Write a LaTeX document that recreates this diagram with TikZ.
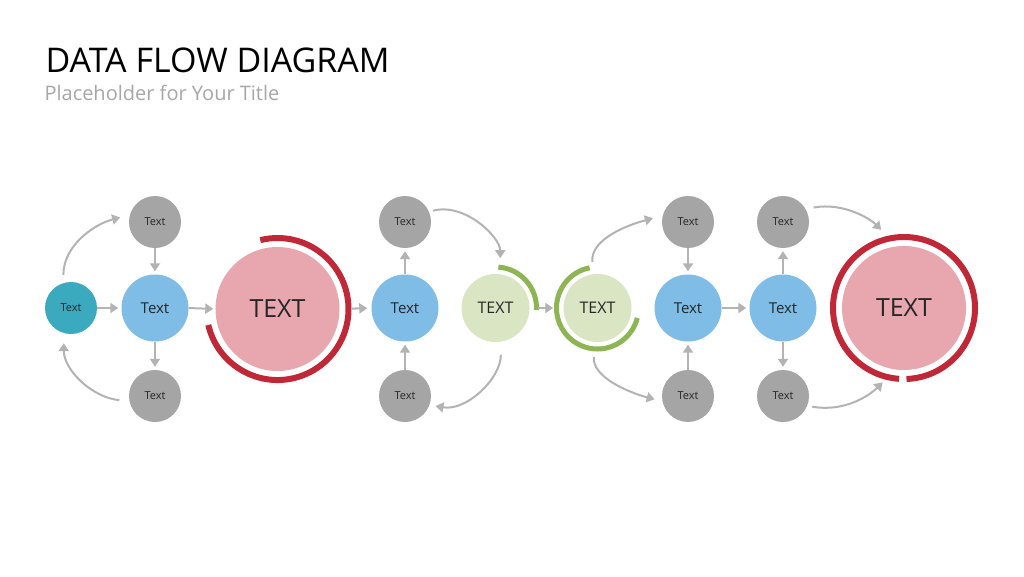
\documentclass[tikz,border=0pt]{standalone}
\usepackage{fontspec}
\setmainfont{Open Sans}
\usetikzlibrary{arrows.meta}

\definecolor{circGray}{HTML}{A5A5A5}
\definecolor{arrowGray}{HTML}{B3B3B3}
\definecolor{circBlue}{HTML}{7FBDE6}
\definecolor{circTeal}{HTML}{3BAABE}
\definecolor{circPink}{HTML}{E8A6AE}
\definecolor{ringRed}{HTML}{C02838}
\definecolor{circGreen}{HTML}{D9E5C3}
\definecolor{ringGreen}{HTML}{8DB554}
\definecolor{txtDark}{HTML}{262626}
\definecolor{txtSub}{HTML}{A6A6A6}

\begin{document}
\begin{tikzpicture}[x=1pt,y=1pt]

    \tikzset{grayNode/.style = {shape=circle,fill=circGray,minimum size=52pt,inner sep=0pt,text=txtDark,font=\fontsize{11}{13}\selectfont}}
    \tikzset{tealNode/.style = {shape=circle,fill=circTeal,minimum size=52pt,inner sep=0pt,text=txtDark,font=\fontsize{11}{13}\selectfont}}
    \tikzset{blueNode/.style = {shape=circle,fill=circBlue,minimum size=67pt,inner sep=0pt,text=txtDark,font=\fontsize{15}{18}\selectfont}}
    \tikzset{greenNode/.style = {shape=circle,fill=circGreen,minimum size=68pt,inner sep=0pt,text=txtDark,font=\fontsize{16}{19}\selectfont}}
    \tikzset{pinkNode/.style = {shape=circle,fill=circPink,minimum size=124pt,inner sep=0pt,text=txtDark,font=\fontsize{25}{30}\selectfont}}
    \tikzset{redRing/.style = {draw=ringRed,line width=6pt}}
    \tikzset{greenRing/.style = {draw=ringGreen,line width=5pt}}
    \tikzset{flow/.style = {-{Triangle[length=8pt,width=10pt]},draw=arrowGray,line width=2pt}}

    \useasboundingbox (0,0) rectangle (1024,-576);

    \node [anchor=base west,text=black,font=\fontsize{34}{40}\selectfont] (title) at (42,-72) {DATA FLOW DIAGRAM};
    \node [anchor=base west,text=txtSub,font=\fontsize{20}{24}\selectfont] (subtitle) at (41,-100) {Placeholder for Your Title};


    %left group
    \node [tealNode] (teal) at (71,-308) {Text};
    \node [blueNode] (blue1) at (155,-308) {Text};
    \node [grayNode] (top1) at (155,-222) {Text};
    \node [grayNode] (bottom1) at (155,-396) {Text};
    \node [pinkNode] (pink1) at (277.5,-309) {TEXT};
    \draw [redRing] (pink1.center) ++(-167:71) arc[start angle=-167, end angle=104, radius=71];

    \draw [flow,shorten >=3pt] (teal.east) -- (blue1.west);
    \draw [flow,shorten >=2pt] (blue1.east) -- (pink1.west);
    \draw [flow,shorten >=3pt] (top1.south) -- (blue1.north);
    \draw [flow,shorten >=3pt] (blue1.south) -- (bottom1.north);
    \draw [flow,shorten <=8pt,shorten >=10pt] (teal.107)
        to [out=90,in=195] (top1.164);
    \draw [flow,shorten <=10pt,shorten >=10pt] (bottom1.191)
        to [out=175,in=270] (teal.254);


    %middle group
    \node [blueNode] (blue2) at (405,-308) {Text};
    \node [grayNode] (top2) at (405,-222) {Text};
    \node [grayNode] (bottom2) at (405,-396) {Text};
    \node [greenNode] (green1) at (495.5,-308) {TEXT};
    \draw [greenRing] (green1.center) ++(-3:41) arc[start angle=-3, end angle=86, radius=41];

    \draw [flow,shorten <=12pt,shorten >=4pt] (pink1.east) -- (blue2.west);
    \draw [flow,shorten >=3pt] (blue2.north) -- (top2.south);
    \draw [flow,shorten >=3pt] (bottom2.north) -- (blue2.south);
    \draw [flow,shorten <=4pt,shorten >=16pt] (top2.23)
        to [out=15,in=90] (green1.82);
    \draw [flow,shorten <=13pt,shorten >=6pt] (green1.-81)
        to [out=-90,in=-10] (bottom2.-20);


    %right group
    \node [greenNode] (green2) at (597.5,-308) {TEXT};
    \draw [greenRing] (green2.center) ++(101:41) arc[start angle=101, end angle=346, radius=41];
    \node [blueNode] (blue3) at (688,-308) {Text};
    \node [grayNode] (top3) at (688,-222) {Text};
    \node [grayNode] (bottom3) at (688,-396) {Text};
    \node [blueNode] (blue4) at (783,-308) {Text};
    \node [grayNode] (top4) at (783,-222) {Text};
    \node [grayNode] (bottom4) at (783,-396) {Text};
    \node [pinkNode] (pink2) at (904,-308) {TEXT};
    \draw [redRing] (pink2.center) ++(-88:71) arc[start angle=-88, end angle=266, radius=71];

    \draw [flow,shorten <=8pt,shorten >=10pt] (green1.east) -- (green2.west);
    \draw [flow,shorten >=3pt] (top3.south) -- (blue3.north);
    \draw [flow,shorten >=3pt] (bottom3.north) -- (blue3.south);
    \draw [flow,shorten >=3pt] (blue3.east) -- (blue4.west);
    \draw [flow,shorten >=3pt] (blue4.north) -- (top4.south);
    \draw [flow,shorten >=3pt] (blue4.south) -- (bottom4.north);
    \draw [flow,shorten <=12pt,shorten >=10pt] (green2.97)
        to [out=95,in=195] (top3.166);
    \draw [flow,shorten <=15pt,shorten >=8pt] (green2.-94)
        to [out=-95,in=165] (bottom3.192);
    \draw [flow,shorten <=8pt,shorten >=23pt] (top4.30)
        to [out=10,in=135] (pink2.96);
    \draw [flow,shorten <=5pt,shorten >=18pt] (bottom4.-22)
        to [out=-10,in=225] (pink2.-98);

\end{tikzpicture}
\end{document}
